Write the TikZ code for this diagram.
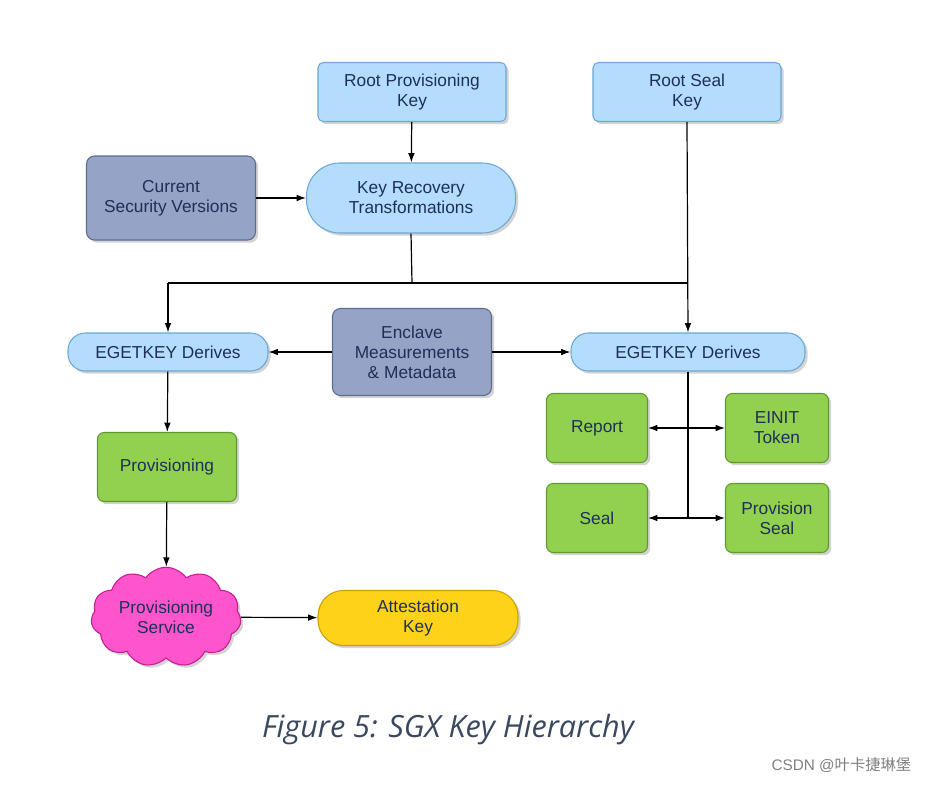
\documentclass[tikz,border=0pt]{standalone}
\usepackage{fontspec}
\setmainfont{Liberation Sans}
\newfontfamily\capfont{Open Sans}
\newfontfamily\cjk{Noto Sans CJK SC}
\usetikzlibrary{shapes.symbols,shadows,arrows.meta}
\definecolor{txt}{HTML}{1F2F5A}
\definecolor{lb}{HTML}{B3DDFB}
\definecolor{lbd}{HTML}{6FA6D6}
\definecolor{gb}{HTML}{95A3C6}
\definecolor{gbd}{HTML}{5E6C8E}
\definecolor{gr}{HTML}{92D050}
\definecolor{grd}{HTML}{5E9A2C}
\definecolor{ye}{HTML}{FFD21A}
\definecolor{yed}{HTML}{C9A000}
\definecolor{mg}{HTML}{FF55CC}
\definecolor{mgd}{HTML}{C02090}
\definecolor{capc}{HTML}{39475F}
\begin{document}
\begin{tikzpicture}[x=0.0264cm,y=-0.0264cm,
  base/.style={draw,line width=0.8pt,align=center,text=txt,font=\fontsize{13}{15}\selectfont,inner sep=0pt,drop shadow={shadow xshift=2pt,shadow yshift=-2pt,opacity=0.35}},
  blu/.style={base,fill=lb,draw=lbd,rounded corners=4pt},
  pill/.style={base,fill=lb,draw=lbd,rounded corners=13pt},
  gry/.style={base,fill=gb,draw=gbd,rounded corners=6pt},
  grn/.style={base,fill=gr,draw=grd,rounded corners=5pt},
  arr/.style={draw,line width=0.9pt,-{Latex[length=7pt,width=5pt]}},
  ln/.style={draw,line width=0.9pt}]
\useasboundingbox (0,0) rectangle (929,784);
\node[blu,minimum width=188*0.0264cm,minimum height=59*0.0264cm] (rpk) at (412,92) {Root Provisioning\\Key};
\node[blu,minimum width=188*0.0264cm,minimum height=59*0.0264cm] (rsk) at (687,92) {Root Seal\\Key};
\node[gry,minimum width=169*0.0264cm,minimum height=84*0.0264cm] (csv) at (171,198) {Current\\Security Versions};
\node[pill,rounded corners=25pt,minimum width=209*0.0264cm,minimum height=70*0.0264cm] (krt) at (411,198) {Key Recovery\\Transformations};
\node[pill,minimum width=200*0.0264cm,minimum height=38*0.0264cm] (el) at (168,352) {EGETKEY Derives};
\node[gry,minimum width=159*0.0264cm,minimum height=87*0.0264cm] (em) at (412,352) {Enclave\\Measurements\\\& Metadata};
\node[pill,minimum width=234*0.0264cm,minimum height=38*0.0264cm] (er) at (688,352) {EGETKEY Derives};
\node[grn,minimum width=101*0.0264cm,minimum height=69*0.0264cm] (rep) at (597,428) {Report};
\node[grn,minimum width=103*0.0264cm,minimum height=69*0.0264cm] (ein) at (777,428) {EINIT\\Token};
\node[grn,minimum width=101*0.0264cm,minimum height=69*0.0264cm] (seal) at (597,518) {Seal};
\node[grn,minimum width=103*0.0264cm,minimum height=69*0.0264cm] (ps) at (777,518) {Provision\\Seal};
\node[grn,minimum width=139*0.0264cm,minimum height=69*0.0264cm] (prov) at (167,467) {Provisioning};
\node[base,cloud,cloud puffs=11,cloud puff arc=110,aspect=1.6,fill=mg,draw=mgd,text=txt,minimum width=150*0.0264cm,minimum height=92*0.0264cm] (cl) at (166,617) {Provisioning\\Service};
\node[base,fill=ye,draw=yed,rounded corners=19pt,minimum width=200*0.0264cm,minimum height=55*0.0264cm] (ak) at (418,618) {Attestation\\Key};
\coordinate (j1) at (412,283);
\coordinate (jl) at (168,283);
\coordinate (jr) at (687,283);
\coordinate (b1) at (688,428);
\coordinate (b2) at (688,518);
\path[arr] (rpk) -- (krt);
\path[arr] (csv) -- (krt);
\path[ln] (krt.south) -- (j1);
\path[ln] (jl) -- (jr);
\path[arr] (jl) -- (el.north);
\path[arr] (rsk.south) -- (er.north);
\path[arr] (em) -- (el);
\path[arr] (em) -- (er);
\path[arr] (el) -- (prov);
\path[arr] (prov) -- (cl);
\path[arr] (cl) -- (ak);
\path[ln] (er.south) -- (b2);
\path[arr] (b1) -- (rep.east);
\path[arr] (b1) -- (ein.west);
\path[arr] (b2) -- (seal.east);
\path[arr] (b2) -- (ps.west);
\node[text=capc] (cap) at (448,730) {\capfont\itshape\fontsize{23}{27}\selectfont Figure 5: SGX Key Hierarchy};
\node[text=gray,anchor=east] (wm) at (916,765) {\fontsize{11.5}{13}\selectfont CSDN @\cjk 叶卡捷琳堡};
\end{tikzpicture}
\end{document}
